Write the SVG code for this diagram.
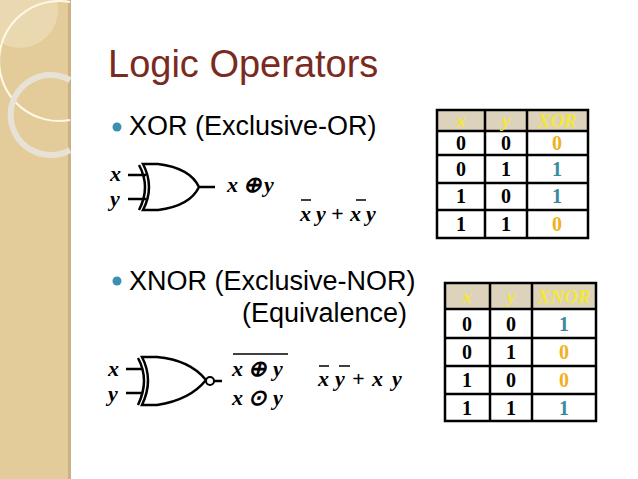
<svg xmlns="http://www.w3.org/2000/svg" width="638" height="479" viewBox="0 0 638 479">
<style>
.t{font-family:"Liberation Sans",Arial,sans-serif;fill:#000}
.m{font-family:"Liberation Serif","Times New Roman",serif;font-style:italic;font-weight:bold;font-size:22px;fill:#000;white-space:pre}
.c{font-family:"Liberation Serif","Times New Roman",serif;font-weight:bold;font-size:20px;text-anchor:middle}
.h{font-family:"Liberation Serif","Times New Roman",serif;font-style:italic;font-weight:bold;font-size:19px;text-anchor:middle;fill:#f2e83a}
.g{fill:none;stroke:#000;stroke-width:2.5}
.b{fill:none;stroke:#000;stroke-width:1.5}
.tb{stroke:#000;stroke-width:2.5}
</style>
<rect width="638" height="479" fill="#fff"/>
<g id="band">
<rect x="0" y="0" width="70" height="479" fill="#e3cc9a"/>
<rect x="68" y="0" width="3" height="479" fill="#c9b283"/>
<circle cx="20" cy="10" r="38" fill="#eee0c0" opacity="0.6"/>
<path d="M70 2 A60 60 0 1 0 70 120" fill="none" stroke="#fff8e6" stroke-width="2"/>
<path d="M70 80 A40 40 0 1 0 70 150" fill="none" stroke="#e8e2d6" stroke-width="6"/>
</g>
<text class="t" x="108" y="77" font-size="38" style="fill:#7a2a1e">Logic Operators</text>
<circle cx="117" cy="127" r="4.5" fill="#3b8fb0"/>
<text class="t" x="129" y="135" font-size="27">XOR (Exclusive-OR)</text>
<circle cx="117" cy="281" r="4.5" fill="#3b8fb0"/>
<text class="t" x="129" y="290" font-size="27">XNOR (Exclusive-NOR)</text>
<text class="t" x="242" y="322" font-size="27">(Equivalence)</text>
<g id="xor">
<path class="g" d="M128 175 H146 M128 199 H146 M139 165 Q151 187 139 210 M143 164 Q155 187 143 210 H158 Q190 206 199 187 Q190 168 158 164 Z M199 187 H215"/>
<text class="m" x="110" y="181">x</text>
<text class="m" x="110" y="206">y</text>
<text class="m" y="192"><tspan x="227">x</tspan><tspan x="243">⊕</tspan><tspan x="264">y</tspan></text>
<text class="m" y="221"><tspan x="300">x</tspan><tspan x="316">y</tspan><tspan x="331">+</tspan><tspan x="350">x</tspan><tspan x="366">y</tspan></text>
<path class="b" d="M301 200 H311 M356 200 H366"/>
</g>
<g id="xnor">
<path class="g" d="M126 369 H143 M126 393 H143 M138 358 Q150 380 138 405 M142 357 Q154 380 142 405 H157 Q190 400 206 380 Q190 360 157 357 Z M214 381 H222"/>
<circle cx="210" cy="381" r="4" fill="#fff" stroke="#000" stroke-width="2"/>
<text class="m" x="108" y="376">x</text>
<text class="m" x="108" y="401">y</text>
<text class="m" y="376"><tspan x="232">x</tspan><tspan x="248">⊕</tspan><tspan x="273">y</tspan></text>
<path class="b" d="M233 354 H288"/>
<text class="m" y="405"><tspan x="232">x</tspan><tspan x="248">⊙</tspan><tspan x="273">y</tspan></text>
<text class="m" y="386"><tspan x="318">x</tspan><tspan x="335">y</tspan><tspan x="352">+</tspan><tspan x="372">x</tspan><tspan x="392">y</tspan></text>
<path class="b" d="M319 366 H329 M339 366 H350"/>
</g>
<g id="xor-table">
<rect x="437" y="110" width="151" height="21" fill="#ddd2bb"/>
<path class="tb" fill="none" d="M437 110 H588 V238 H437 Z M437 131 H588 M437 155 H588 M437 183 H588 M437 210 H588 M485 110 V238 M527 110 V238"/>
<text class="h" x="461" y="127">x</text><text class="h" x="506" y="127">y</text><text class="h" x="557" y="127">XOR</text>
<text class="c" x="461" y="150">0</text><text class="c" x="506" y="150">0</text><text class="c" x="557" y="150" fill="#f0b020">0</text>
<text class="c" x="461" y="176">0</text><text class="c" x="506" y="176">1</text><text class="c" x="557" y="176" fill="#3a8aa0">1</text>
<text class="c" x="461" y="203">1</text><text class="c" x="506" y="203">0</text><text class="c" x="557" y="203" fill="#3a8aa0">1</text>
<text class="c" x="461" y="231">1</text><text class="c" x="506" y="231">1</text><text class="c" x="557" y="231" fill="#f0b020">0</text>
</g>
<g id="xnor-table">
<rect x="445" y="283" width="151" height="26" fill="#ddd2bb"/>
<path class="tb" fill="none" d="M445 283 H596 V421 H445 Z M445 309 H596 M445 338 H596 M445 366 H596 M445 394 H596 M490 283 V421 M532 283 V421"/>
<text class="h" x="467" y="303">x</text><text class="h" x="511" y="303">y</text><text class="h" x="564" y="303">XNOR</text>
<text class="c" x="467" y="331">0</text><text class="c" x="511" y="331">0</text><text class="c" x="564" y="331" fill="#3a8aa0">1</text>
<text class="c" x="467" y="359">0</text><text class="c" x="511" y="359">1</text><text class="c" x="564" y="359" fill="#f0b020">0</text>
<text class="c" x="467" y="387">1</text><text class="c" x="511" y="387">0</text><text class="c" x="564" y="387" fill="#f0b020">0</text>
<text class="c" x="467" y="415">1</text><text class="c" x="511" y="415">1</text><text class="c" x="564" y="415" fill="#3a8aa0">1</text>
</g>
</svg>
